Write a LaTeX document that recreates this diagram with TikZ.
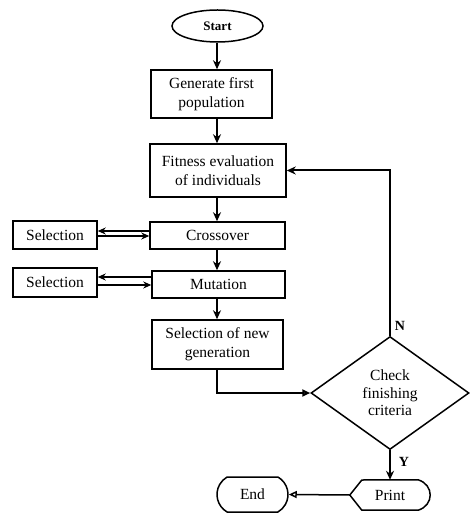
\documentclass[tikz,border=0pt]{standalone}
\usepackage{fontspec}
\setmainfont{Liberation Serif}
\usetikzlibrary{arrows.meta,shapes.geometric,shapes.misc}
\begin{document}
\begin{tikzpicture}[x=1pt,y=-1pt,
  box/.style={draw, line width=1.5pt, align=center, inner sep=0pt, font=\fontsize{15.5}{19}\selectfont},
  arr/.style={-{Stealth[length=9pt,width=8pt]}, line width=2pt},
  thinarr/.style={-{Stealth[length=8pt,width=7pt]}, line width=1.4pt},
  openarr/.style={-{Triangle[open,length=8pt,width=7pt]}, line width=2pt},
  lbl/.style={font=\bfseries\fontsize{14}{16}\selectfont, inner sep=0pt}]
\useasboundingbox (0,0) rectangle (474,518);
\node[draw, ellipse, line width=1.5pt, minimum width=91pt, minimum height=32pt, inner sep=0pt,
      font=\bfseries\fontsize{13}{15}\selectfont] (start) at (217.5,26) {Start};
\node[box, minimum width=121pt, minimum height=48pt] (gen) at (211.5,94) {Generate first\\population};
\node[box, minimum width=136pt, minimum height=53pt] (fit) at (218,170.5) {Fitness evaluation\\of individuals};
\node[box, minimum width=135pt, minimum height=27pt] (cross) at (217.5,235.5) {Crossover};
\node[box, minimum width=133pt, minimum height=27pt] (mut) at (218.5,284.5) {Mutation};
\node[box, minimum width=84pt, minimum height=28pt] (sel1) at (55,235) {Selection};
\node[box, minimum width=84pt, minimum height=29pt] (sel2) at (55,282.5) {Selection};
\node[box, minimum width=131pt, minimum height=49pt] (newgen) at (217.5,344.5) {Selection of new\\generation};
\node[draw, diamond, line width=1.5pt, minimum width=158pt, minimum height=113pt, inner sep=0pt,
      align=center, font=\fontsize{15.5}{17.5}\selectfont] (dia) at (390,393) {Check\\finishing\\criteria};
\node[minimum width=80pt, minimum height=30pt, inner sep=0pt, font=\fontsize{15.5}{19}\selectfont] (print) at (390,495) {Print};
\draw[line width=1.5pt] (print.west) -- ++(12,-15) -- ([xshift=-12pt]print.north east)
  .. controls ([xshift=4pt,yshift=-5pt]print.north east) and ([xshift=4pt,yshift=5pt]print.south east) .. ([xshift=-12pt]print.south east)
  -- ([xshift=12pt]print.south west) -- cycle;
\node[draw, rounded rectangle, rounded rectangle arc length=120, line width=1.5pt, minimum width=71pt, minimum height=35pt,
      inner sep=0pt, font=\fontsize{15.5}{19}\selectfont] (end) at (252.5,494.5) {End};
% connectors
\draw[arr] (start.south -| 217,0) -- (217,0 |- gen.north);
\draw[arr] (217,0 |- gen.south) -- (217,0 |- fit.north);
\draw[arr] (217,0 |- fit.south) -- (217,0 |- cross.north);
\draw[arr] (217,0 |- cross.south) -- (217,0 |- mut.north);
\draw[arr] (217,0 |- mut.south) -- (217,0 |- newgen.north);
\draw[thinarr] ([yshift=4.5pt]cross.west) -- ([yshift=4.5pt]cross.west -| sel1.east);
\draw[thinarr] ([yshift=-0.5pt]cross.west -| sel1.east) -- ([yshift=-0.5pt]cross.west);
\draw[thinarr] ([yshift=7.5pt]mut.west) -- ([yshift=7.5pt]mut.west -| sel2.east);
\draw[thinarr] ([yshift=-0.5pt]mut.west -| sel2.east) -- ([yshift=-0.5pt]mut.west);
\draw[openarr] (217,0 |- newgen.south) |- (dia.west);
\draw[arr] (dia.north) -- (dia.north |- fit.east) -- (fit.east);
\draw[arr] (dia.south) -- (print.north);
\draw[openarr, line width=1.5pt] (print.west) -- (end.east);
\node[lbl] (nlbl) at (400,326) {N};
\node[lbl] (ylbl) at (404,462) {Y};
\end{tikzpicture}
\end{document}
